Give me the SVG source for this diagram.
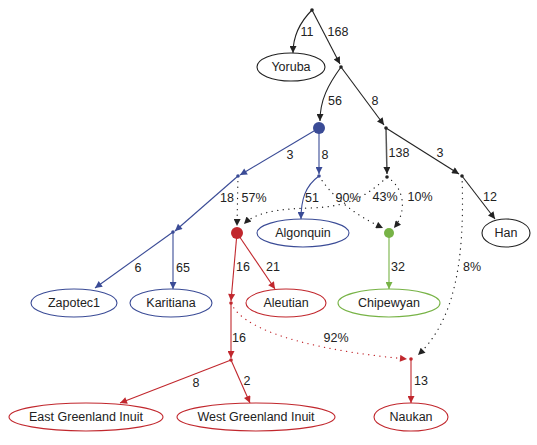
<svg xmlns="http://www.w3.org/2000/svg" width="537" height="445" viewBox="0 0 537 445">
<style>
text{font-family:"Liberation Sans",Arial,sans-serif;font-size:12.5px;fill:#222;text-anchor:middle}
.e{fill:none;stroke-width:1.1}
.k{stroke:#222}
.b{stroke:#3a4b96}
.r{stroke:#c1272d}
.g{stroke:#77b346}
.d{stroke-dasharray:0.1 5.5;stroke-linecap:round;stroke-width:1.3}
.nb{fill:#fff;stroke-width:1.1}
</style>
<defs>
<marker id="ak" viewBox="0 0 10 10" refX="10" refY="5" markerWidth="9" markerHeight="7" markerUnits="userSpaceOnUse" orient="auto"><path d="M0,0L10,5L0,10z" fill="#222"/></marker>
<marker id="ab" viewBox="0 0 10 10" refX="10" refY="5" markerWidth="9" markerHeight="7" markerUnits="userSpaceOnUse" orient="auto"><path d="M0,0L10,5L0,10z" fill="#3a4b96"/></marker>
<marker id="ar" viewBox="0 0 10 10" refX="10" refY="5" markerWidth="9" markerHeight="7" markerUnits="userSpaceOnUse" orient="auto"><path d="M0,0L10,5L0,10z" fill="#c1272d"/></marker>
<marker id="ag" viewBox="0 0 10 10" refX="10" refY="5" markerWidth="9" markerHeight="7" markerUnits="userSpaceOnUse" orient="auto"><path d="M0,0L10,5L0,10z" fill="#77b346"/></marker>
</defs>
<g id="connectors">
<path class="e k" d="M312,10 C300,22 293,35 293,53" marker-end="url(#ak)"/>
<path class="e k" d="M312,10 L340,64" marker-end="url(#ak)"/>
<path class="e k" d="M341,67 C328,85 320,100 320,121" marker-end="url(#ak)"/>
<path class="e k" d="M341,67 L384,125" marker-end="url(#ak)"/>
<path class="e" style="stroke:#555;stroke-width:1.5" d="M386,128 L387,174" marker-end="url(#ak)"/>
<path class="e k" d="M386,128 L459,174" marker-end="url(#ak)"/>
<path class="e k" d="M462,176 L495,219" marker-end="url(#ak)"/>
<path class="e b" d="M319,128 L240,175" marker-end="url(#ab)"/>
<path class="e b" d="M319,128 L319,174" marker-end="url(#ab)"/>
<path class="e b" d="M238,176 L175,231" marker-end="url(#ab)"/>
<path class="e b" d="M319,176 C305,186 301,200 301,219" marker-end="url(#ab)"/>
<path class="e b" d="M173,232 L95,288" marker-end="url(#ab)"/>
<path class="e b" d="M173,232 L173,289" marker-end="url(#ab)"/>
<path class="e r" d="M237,233 L231,301" marker-end="url(#ar)"/>
<path class="e r" d="M237,233 L275,289" marker-end="url(#ar)"/>
<path class="e r" d="M231,303 L231,358" marker-end="url(#ar)"/>
<path class="e r" d="M231,360 L120,403" marker-end="url(#ar)"/>
<path class="e r" d="M231,360 L250,403" marker-end="url(#ar)"/>
<path class="e r" d="M411,359 L411,403" marker-end="url(#ar)"/>
<path class="e g" d="M389,233 L389,289" marker-end="url(#ag)"/>
<path class="e k d" d="M238,176 L237,226" marker-end="url(#ak)"/>
<path class="e k d" d="M387,177 C368,195 350,207 310,208 C275,209 255,213 244,224" marker-end="url(#ak)"/>
<path class="e k d" d="M319,176 C333,198 355,215 383,228" marker-end="url(#ak)"/>
<path class="e k d" d="M387,177 C405,188 407,212 394,228" marker-end="url(#ak)"/>
<path class="e k d" d="M462,176 C465,260 455,320 418,355" marker-end="url(#ak)"/>
<path class="e r d" d="M231,303 C245,335 330,352 407,359" marker-end="url(#ar)"/>
<text x="307" y="36">11</text>
<text x="338" y="36">168</text>
<text x="335" y="105">56</text>
<text x="375" y="105">8</text>
<text x="290" y="159">3</text>
<text x="325" y="159">8</text>
<text x="227" y="202">18</text>
<text x="254" y="202">57%</text>
<text x="312" y="202">51</text>
<text x="348" y="202">90%</text>
<text x="399" y="157">138</text>
<text x="440" y="157">3</text>
<text x="385" y="201">43%</text>
<text x="420" y="201">10%</text>
<text x="490" y="201">12</text>
<text x="138" y="272">6</text>
<text x="183" y="272">65</text>
<text x="243" y="271">16</text>
<text x="273" y="271">21</text>
<text x="398" y="271">32</text>
<text x="472" y="271">8%</text>
<text x="239" y="342">16</text>
<text x="336" y="342">92%</text>
<text x="196" y="387">8</text>
<text x="247" y="385">2</text>
<text x="421" y="385">13</text>
</g>
<g id="n_root"><circle cx="312" cy="10" r="1.8" fill="#222"/></g>
<g id="n_yoruba"><ellipse class="nb k" cx="291" cy="67" rx="34" ry="14"/><text x="291" y="71">Yoruba</text></g>
<g id="n_2"><circle cx="341" cy="67" r="1.8" fill="#222"/></g>
<g id="n_blue"><circle cx="319" cy="128" r="6" fill="#3a4b96"/></g>
<g id="n_3"><circle cx="386" cy="128" r="1.8" fill="#222"/></g>
<g id="n_4"><circle cx="387" cy="177" r="1.8" fill="#222"/></g>
<g id="n_hn"><circle cx="462" cy="176" r="1.8" fill="#222"/></g>
<g id="n_han"><ellipse class="nb k" cx="506" cy="233" rx="24" ry="14"/><text x="506" y="237">Han</text></g>
<g id="n_bl"><circle cx="238" cy="176" r="1.8" fill="#3a4b96"/></g>
<g id="n_br"><circle cx="319" cy="176" r="1.8" fill="#3a4b96"/></g>
<g id="n_bll"><circle cx="173" cy="232" r="1.8" fill="#3a4b96"/></g>
<g id="n_red"><circle cx="237" cy="233" r="6" fill="#c1272d"/></g>
<g id="n_green"><circle cx="389" cy="233" r="5" fill="#77b346"/></g>
<g id="n_algonquin"><ellipse class="nb b" cx="303" cy="233" rx="46" ry="14"/><text x="303" y="237">Algonquin</text></g>
<g id="n_zapotec1"><ellipse class="nb b" cx="74" cy="303" rx="43" ry="14"/><text x="74" y="307">Zapotec1</text></g>
<g id="n_karitiana"><ellipse class="nb b" cx="171" cy="303" rx="41" ry="14"/><text x="171" y="307">Karitiana</text></g>
<g id="n_aleutian"><ellipse class="nb r" cx="286" cy="303" rx="40" ry="14"/><text x="286" y="307">Aleutian</text></g>
<g id="n_chipewyan"><ellipse class="nb g" cx="389" cy="303" rx="51" ry="14"/><text x="389" y="307">Chipewyan</text></g>
<g id="n_r1"><circle cx="231" cy="303" r="1.8" fill="#c1272d"/></g>
<g id="n_r2"><circle cx="231" cy="360" r="1.8" fill="#c1272d"/></g>
<g id="n_nk"><circle cx="411" cy="359" r="1.8" fill="#c1272d"/></g>
<g id="n_egi"><ellipse class="nb r" cx="86" cy="417" rx="77" ry="14"/><text x="86" y="421">East Greenland Inuit</text></g>
<g id="n_wgi"><ellipse class="nb r" cx="256" cy="417" rx="79" ry="14"/><text x="256" y="421">West Greenland Inuit</text></g>
<g id="n_naukan"><ellipse class="nb r" cx="411" cy="417" rx="37" ry="14"/><text x="411" y="421">Naukan</text></g>
</svg>
